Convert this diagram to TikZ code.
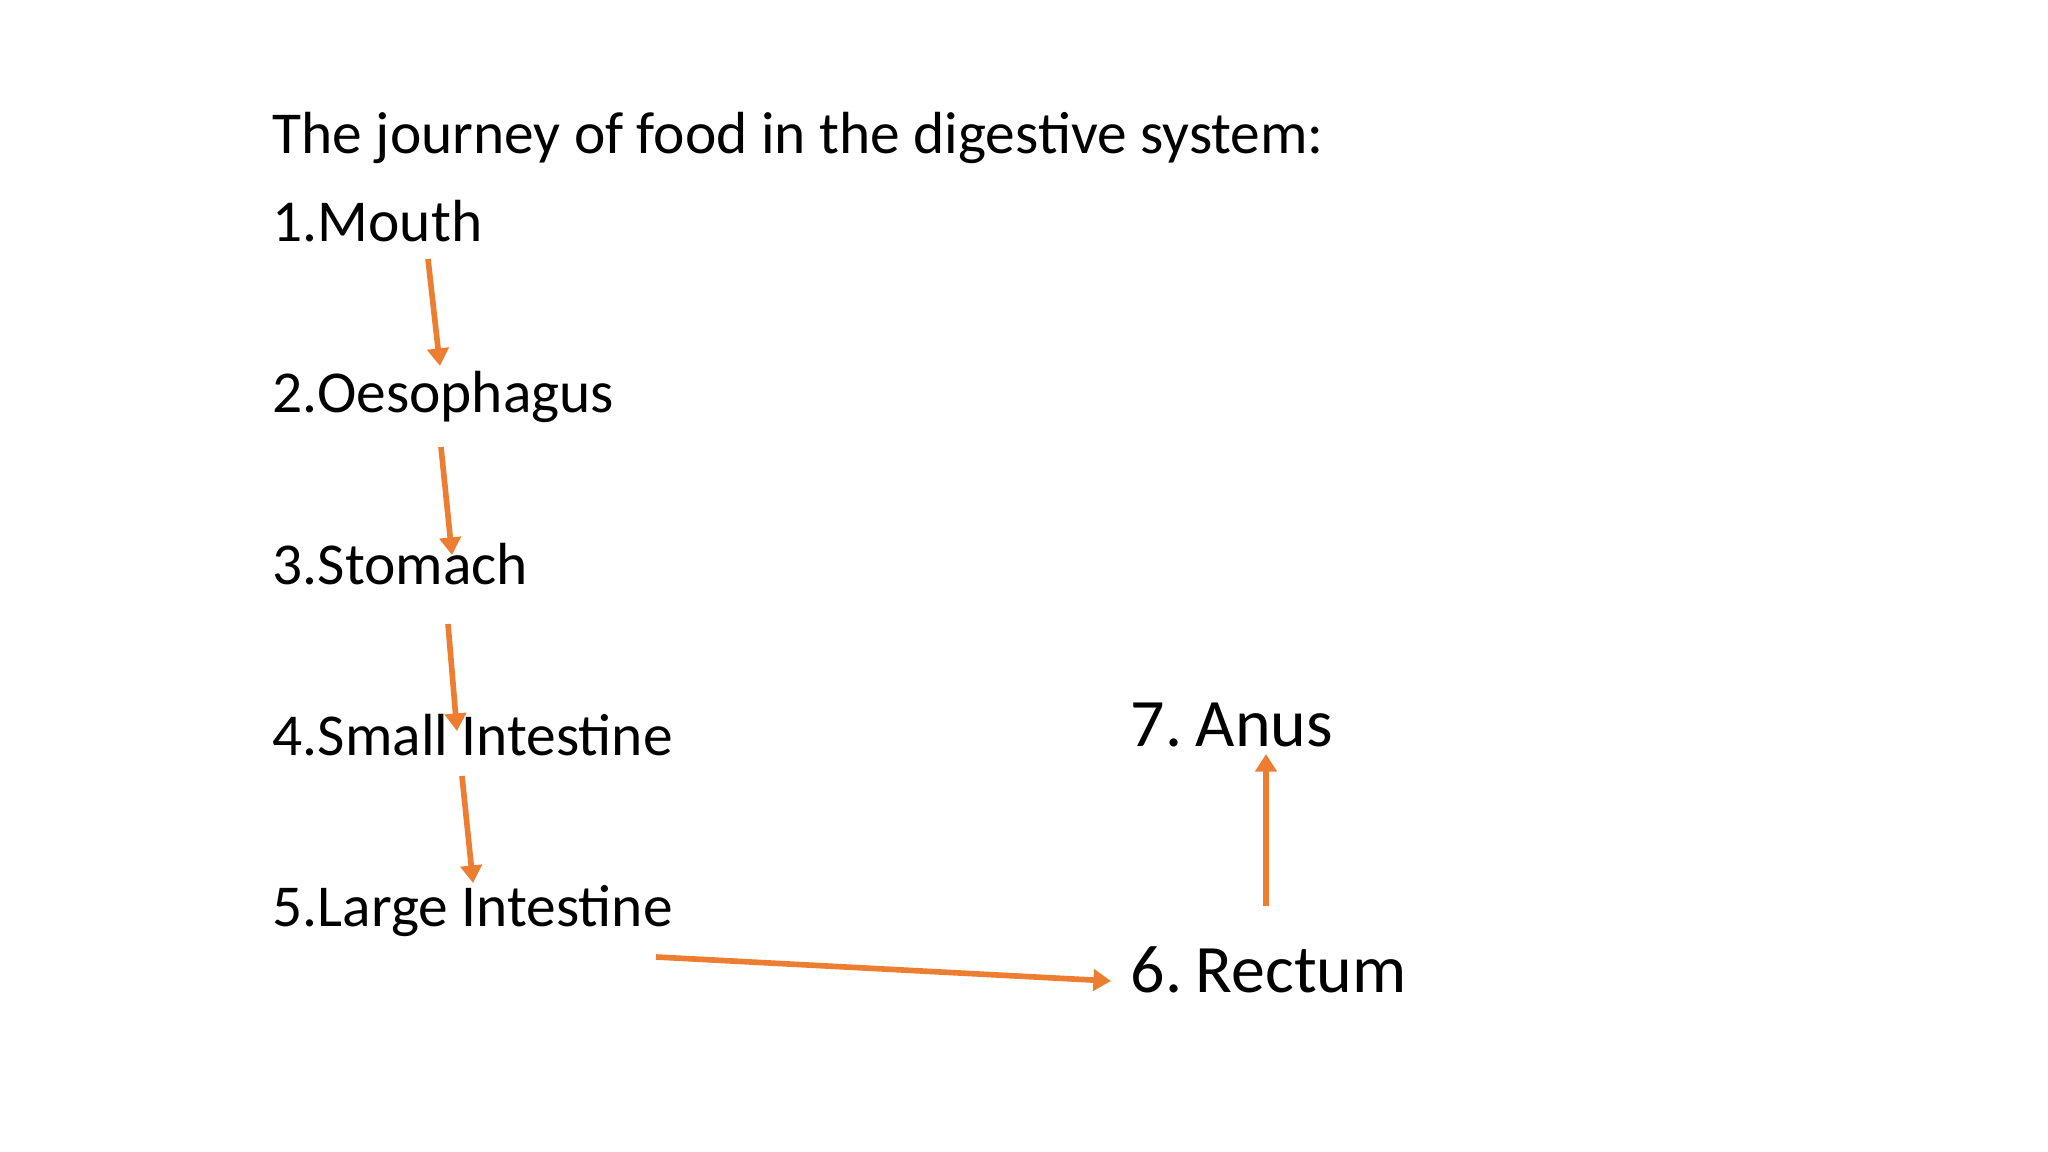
\documentclass[tikz,border=0pt]{standalone}
\usepackage{fontspec}
\setmainfont{Carlito}
\usetikzlibrary{arrows.meta}
\definecolor{arroworange}{HTML}{ED7D31}

\begin{document}
\begin{tikzpicture}[x=0.01cm,y=-0.01cm,
    item/.style={anchor=base west,inner sep=0pt,font=\fontsize{16.9}{20}\selectfont},
    bigitem/.style={anchor=base west,inner sep=0pt,font=\fontsize{19.3}{23}\selectfont},
    flow/.style={draw=arroworange,line width=1.6pt,-{Triangle[length=5pt,width=6pt]}}]
      \useasboundingbox[fill=white] (0,0) rectangle (2048,1152);
      \node[item] (title) at (272,154) {The journey of food in the digestive system:};
      \foreach \n/\t/\y in {1/Mouth/242,2/Oesophagus/413,3/Stomach/584,4/Small Intestine/755,5/Large Intestine/926} {
        \node[item] (s\n) at (272,\y) {\n.\t};
      }
      \node[bigitem] (s6) at (1130,992) {6.\hspace{0.2em}Rectum};
      \node[bigitem] (s7) at (1130,746) {7.\hspace{0.2em}Anus};
      % arrow ends
      \foreach \k/\xa/\ya/\xb/\yb in {1/428/259/440/366,2/441/447/452/555,3/448/624/457/731,4/462/776/473/883,5/656/957/1111/981,6/1266/906/1266/754} {
        \coordinate (from\k) at (\xa,\ya);
        \coordinate (to\k) at (\xb,\yb);
        \draw[flow] (from\k) -- (to\k);
      }
    \end{tikzpicture}
\end{document}
